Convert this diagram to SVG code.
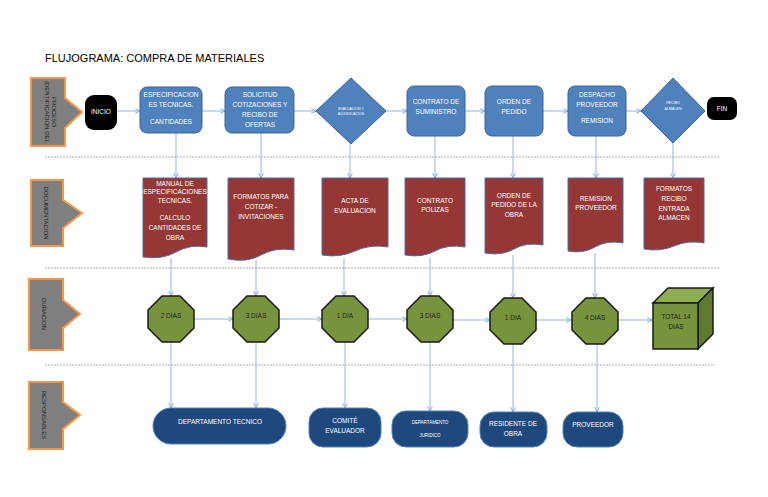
<svg xmlns="http://www.w3.org/2000/svg" width="768" height="497" viewBox="0 0 768 497">
<defs>
<marker id="ar" viewBox="0 0 10 10" refX="9" refY="5" markerWidth="6" markerHeight="6" orient="auto"><path d="M1,1 L9,5 L1,9" fill="none" stroke="#7fa3d1" stroke-width="1.5"/></marker>
</defs>
<style>
text{font-family:"Liberation Sans",Arial,sans-serif;fill:#fff;text-anchor:middle}
.t{font-size:6.5px}
.s{font-size:3.5px}
.blue{fill:#4f81bd;stroke:#3a6598;stroke-width:1}
.doc{fill:#953735;stroke:#4a6fa5;stroke-width:1}
.oct{fill:#77933c;stroke:#1a1a1a;stroke-width:1.5}
.resp{fill:#1f497d;stroke:#4f81bd;stroke-width:1}
.side{fill:#7f7f7f;stroke:#f79646;stroke-width:2}
.dash{stroke:#aaa;stroke-width:1;stroke-dasharray:2,1}
.c{stroke:#95b3d7;stroke-width:1;fill:none;marker-end:url(#ar)}
.dk{fill:#222}
.lbl{font-size:6px;fill:#222}
</style>
<rect width="768" height="497" fill="#fff"/>
<text x="45" y="62" style="font-size:11px;fill:#000;text-anchor:start">FLUJOGRAMA: COMPRA DE MATERIALES</text>
<g id="lanes">
<path class="side" d="M31,78 H65 V98 L82,112 L65,128 V146 H31 Z"/>
<text class="lbl" transform="translate(45,112) rotate(90)">IDENTIFICACION DEL</text>
<text class="lbl" transform="translate(52,112) rotate(90)">PROCESO</text>
<path class="side" d="M31,180 H63 V200 L82,213 L63,228 V246 H31 Z"/>
<text class="lbl" transform="translate(44,213) rotate(90)">DOCUMENTACION</text>
<path class="side" d="M29,279 H63 V300 L80,314 L63,328 V350 H29 Z"/>
<text class="lbl" transform="translate(42,314) rotate(90)">DURACION</text>
<path class="side" d="M29,382 H63 V402 L80,415 L63,429 V449 H29 Z"/>
<text class="lbl" transform="translate(42,415) rotate(90)">RESPONSABLES</text>
<line class="dash" x1="45" y1="157" x2="720" y2="157"/>
<line class="dash" x1="45" y1="268" x2="720" y2="268"/>
<line class="dash" x1="45" y1="365" x2="715" y2="365"/>
</g>
<g id="connectors">
<line class="c" x1="117" y1="111" x2="140" y2="111"/>
<line class="c" x1="202" y1="111" x2="225" y2="111"/>
<line class="c" x1="294" y1="111" x2="316" y2="111"/>
<line class="c" x1="386" y1="111" x2="407" y2="111"/>
<line class="c" x1="465" y1="111" x2="485" y2="111"/>
<line class="c" x1="543" y1="111" x2="568" y2="111"/>
<line class="c" x1="626" y1="111" x2="641" y2="111"/>
<line class="c" x1="176" y1="133" x2="176" y2="178"/>
<line class="c" x1="261" y1="133" x2="261" y2="178"/>
<line class="c" x1="350" y1="144" x2="350" y2="178"/>
<line class="c" x1="435" y1="136" x2="435" y2="178"/>
<line class="c" x1="513" y1="136" x2="513" y2="178"/>
<line class="c" x1="596" y1="136" x2="596" y2="178"/>
<line class="c" x1="673" y1="143" x2="673" y2="178"/>
<line class="c" x1="171" y1="258" x2="171" y2="296"/>
<line class="c" x1="256" y1="260" x2="256" y2="296"/>
<line class="c" x1="344" y1="258" x2="344" y2="296"/>
<line class="c" x1="430" y1="258" x2="430" y2="296"/>
<line class="c" x1="513" y1="255" x2="513" y2="298"/>
<line class="c" x1="595" y1="253" x2="595" y2="298"/>
<line class="c" x1="194" y1="319" x2="233" y2="319"/>
<line class="c" x1="279" y1="319" x2="322" y2="319"/>
<line class="c" x1="368" y1="319" x2="407" y2="319"/>
<line class="c" x1="453" y1="320" x2="490" y2="320"/>
<line class="c" x1="535" y1="320" x2="571" y2="320"/>
<line class="c" x1="617" y1="320" x2="652" y2="320"/>
<line class="c" x1="171" y1="342" x2="171" y2="408"/>
<line class="c" x1="256" y1="342" x2="256" y2="408"/>
<line class="c" x1="345" y1="342" x2="345" y2="408"/>
<line class="c" x1="430" y1="342" x2="430" y2="411"/>
<line class="c" x1="513" y1="344" x2="513" y2="412"/>
<line class="c" x1="597" y1="344" x2="597" y2="412"/>
</g>
<g id="inicio"><rect x="85" y="95" width="32" height="35" rx="9" fill="#000"/><text class="t" x="101" y="114">INICIO</text></g>
<g id="espec"><rect class="blue" x="140" y="87" width="62" height="46" rx="7"/><text class="t" x="171" y="97">ESPECIFICACION</text><text class="t" x="171" y="107">ES TECNICAS.</text><text class="t" x="171" y="124">CANTIDADES</text></g>
<g id="solicitud"><rect class="blue" x="225" y="87" width="69" height="46" rx="7"/><text class="t" x="260" y="97">SOLICITUD</text><text class="t" x="260" y="107">COTIZACIONES Y</text><text class="t" x="260" y="117">RECIBO DE</text><text class="t" x="260" y="127">OFERTAS</text></g>
<g id="evaluacion"><polygon class="blue" points="351,78 386,111 351,144 316,111"/><text class="s" x="351" y="110">EVALUACION Y</text><text class="s" x="351" y="115">ADJUDICACION</text></g>
<g id="contrato"><rect class="blue" x="407" y="86" width="58" height="50" rx="7"/><text class="t" x="436" y="104">CONTRATO DE</text><text class="t" x="436" y="114">SUMINISTRO</text></g>
<g id="orden"><rect class="blue" x="485" y="86" width="58" height="50" rx="7"/><text class="t" x="514" y="104">ORDEN DE</text><text class="t" x="514" y="114">PEDIDO</text></g>
<g id="despacho"><rect class="blue" x="568" y="86" width="58" height="50" rx="7"/><text class="t" x="597" y="97">DESPACHO</text><text class="t" x="597" y="107">PROVEEDOR</text><text class="t" x="597" y="123">REMISION</text></g>
<g id="recibo"><polygon class="blue" points="673,78 705,111 673,143 641,111"/><text class="s" x="673" y="104">RECIBO</text><text class="s" x="673" y="110">ALMACEN</text></g>
<g id="fin"><rect x="707" y="97" width="30" height="23" rx="7" fill="#000"/><text class="t" x="722" y="111">FIN</text></g>
<g id="doc1"><path class="doc" d="M143,178 H207 V247 Q190,244 176,252 T143,257 Z"/><text class="t" x="175" y="186">MANUAL DE</text><text class="t" x="175" y="194">ESPECIFICACIONES</text><text class="t" x="175" y="203">TECNICAS.</text><text class="t" x="175" y="220">CALCULO</text><text class="t" x="175" y="230">CANTIDADES DE</text><text class="t" x="175" y="240">OBRA</text></g>
<g id="doc2"><path class="doc" d="M228,178 H294 V250 Q275,247 261,255 T228,259 Z"/><text class="t" x="261" y="199">FORMATOS PARA</text><text class="t" x="261" y="209">COTIZAR -</text><text class="t" x="261" y="219">INVITACIONES</text></g>
<g id="doc3"><path class="doc" d="M322,178 H388 V247 Q370,244 355,251 T322,255 Z"/><text class="t" x="355" y="203">ACTA DE</text><text class="t" x="355" y="213">EVALUACION</text></g>
<g id="doc4"><path class="doc" d="M405,178 H465 V247 Q448,244 435,251 T405,255 Z"/><text class="t" x="435" y="203">CONTRATO</text><text class="t" x="435" y="212">POLIZAS</text></g>
<g id="doc5"><path class="doc" d="M485,178 H543 V245 Q526,242 514,249 T485,253 Z"/><text class="t" x="514" y="198">ORDEN DE</text><text class="t" x="514" y="207">PEDIDO DE LA</text><text class="t" x="514" y="217">OBRA</text></g>
<g id="doc6"><path class="doc" d="M568,178 H623 V243 Q607,240 595,247 T568,251 Z"/><text class="t" x="596" y="201">REMISION</text><text class="t" x="596" y="210">PROVEEDOR</text></g>
<g id="doc7"><path class="doc" d="M644,178 H704 V243 Q688,240 674,246 T644,249 Z"/><text class="t" x="674" y="191">FORMATOS</text><text class="t" x="674" y="201">RECIBO</text><text class="t" x="674" y="211">ENTRADA</text><text class="t" x="674" y="220">ALMACEN</text></g>
<g id="d1"><polygon class="oct" points="162,296 180,296 194,310 194,328 180,342 162,342 148,328 148,310"/><text class="t" x="171" y="318" style="fill:#222">2 DIAS</text></g>
<g id="d2"><polygon class="oct" points="247,296 265,296 279,310 279,328 265,342 247,342 233,328 233,310"/><text class="t" x="256" y="318" style="fill:#222">3 DIAS</text></g>
<g id="d3"><polygon class="oct" points="336,296 354,296 368,310 368,328 354,342 336,342 322,328 322,310"/><text class="t" x="345" y="318" style="fill:#222">1 DIA</text></g>
<g id="d4"><polygon class="oct" points="421,296 439,296 453,310 453,328 439,342 421,342 407,328 407,310"/><text class="t" x="430" y="318" style="fill:#222">3 DIAS</text></g>
<g id="d5"><polygon class="oct" points="504,298 522,298 536,312 536,330 522,344 504,344 490,330 490,312"/><text class="t" x="513" y="320" style="fill:#222">1 DIA</text></g>
<g id="d6"><polygon class="oct" points="586,298 604,298 618,312 618,330 604,344 586,344 572,330 572,312"/><text class="t" x="595" y="320" style="fill:#222">4 DIAS</text></g>
<g id="total"><polygon points="653,303 668,288 713,288 698,303" fill="#8fad52" stroke="#1a1a1a" stroke-width="1.5"/><polygon points="698,303 713,288 713,334 698,349" fill="#5f7a2e" stroke="#1a1a1a" stroke-width="1.5"/><rect x="653" y="303" width="45" height="46" fill="#77933c" stroke="#1a1a1a" stroke-width="1.5"/><text class="t" x="676" y="319" style="fill:#222">TOTAL 14</text><text class="t" x="676" y="329" style="fill:#222">DIAS</text></g>
<g id="r1"><rect class="resp" x="153" y="408" width="133" height="36" rx="18"/><text class="t" x="220" y="424">DEPARTAMENTO TECNICO</text></g>
<g id="r2"><rect class="resp" x="309" y="408" width="72" height="39" rx="14"/><text class="t" x="345" y="423">COMITÉ</text><text class="t" x="345" y="433">EVALUADOR</text></g>
<g id="r3"><rect class="resp" x="392" y="411" width="76" height="36" rx="14"/><text class="s" x="430" y="424" style="font-size:4.5px">DEPARTAMENTO</text><text class="s" x="430" y="437" style="font-size:4.5px">JURIDICO</text></g>
<g id="r4"><rect class="resp" x="480" y="412" width="67" height="35" rx="14"/><text class="t" x="513" y="426">RESIDENTE DE</text><text class="t" x="513" y="436">OBRA</text></g>
<g id="r5"><rect class="resp" x="563" y="412" width="60" height="35" rx="14"/><text class="t" x="593" y="427">PROVEEDOR</text></g>
</svg>
